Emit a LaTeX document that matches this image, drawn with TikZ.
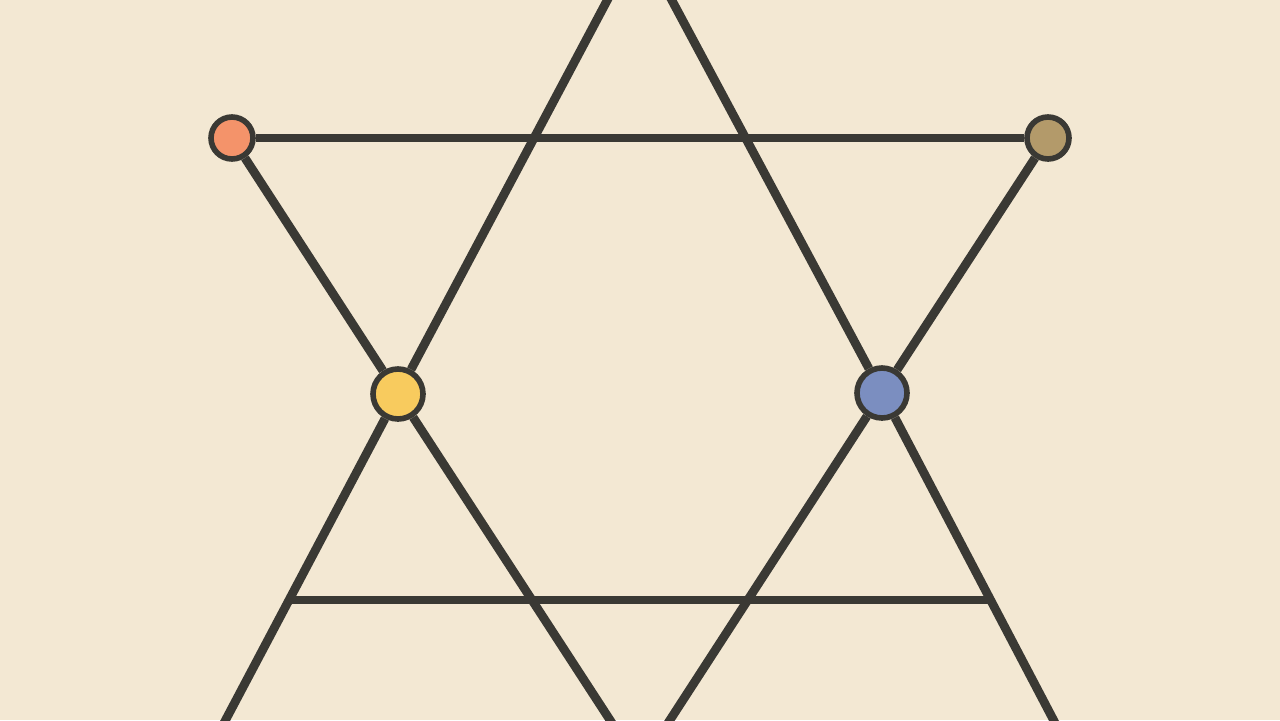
\documentclass[tikz,border=0pt]{standalone}
\definecolor{cream}{HTML}{F3E8D3}
\definecolor{ink}{HTML}{3A3934}
\definecolor{peach}{HTML}{F4936A}
\definecolor{sun}{HTML}{F8CB5E}
\definecolor{steel}{HTML}{7B8EC0}
\definecolor{khaki}{HTML}{B39A6A}
\begin{document}
\begin{tikzpicture}[line join=round, x=0.02cm, y=-0.02cm]
    \tikzset{dot/.style={circle, draw=ink, line width=3.2pt, inner sep=0pt},
             bar/.style={draw=ink, line width=5pt}}
    \fill[cream] (0,0) rectangle (1280,720);
    \useasboundingbox (0,0) rectangle (1280,720);
    % nodes
    \node[dot, fill=peach, minimum size=0.84cm] (o) at (232,138) {};
    \node[dot, fill=khaki, minimum size=0.84cm] (k) at (1048,138) {};
    \node[dot, fill=sun, minimum size=1.0cm] (y) at (398,394) {};
    \node[dot, fill=steel, minimum size=1.0cm] (s) at (882,393) {};
    % free ends
    \coordinate (t1) at (618,-20);
    \coordinate (t2) at (661,-20);
    \coordinate (d1) at (215,740);
    \coordinate (d2) at (1064,740);
    \coordinate (d3) at (623,740);
    \coordinate (d4) at (657,740);
    \coordinate (bl) at (289,600);
    \coordinate (br) at (990,600);
    % lines
    \draw[bar] (o) -- (k);
    \draw[bar] (bl) -- (br);
    \draw[bar] (t1) -- (y) (y) -- (d1);
    \draw[bar] (t2) -- (s) (s) -- (d2);
    \draw[bar] (o) -- (y) (y) -- (d3);
    \draw[bar] (k) -- (s) (s) -- (d4);
\end{tikzpicture}
\end{document}
